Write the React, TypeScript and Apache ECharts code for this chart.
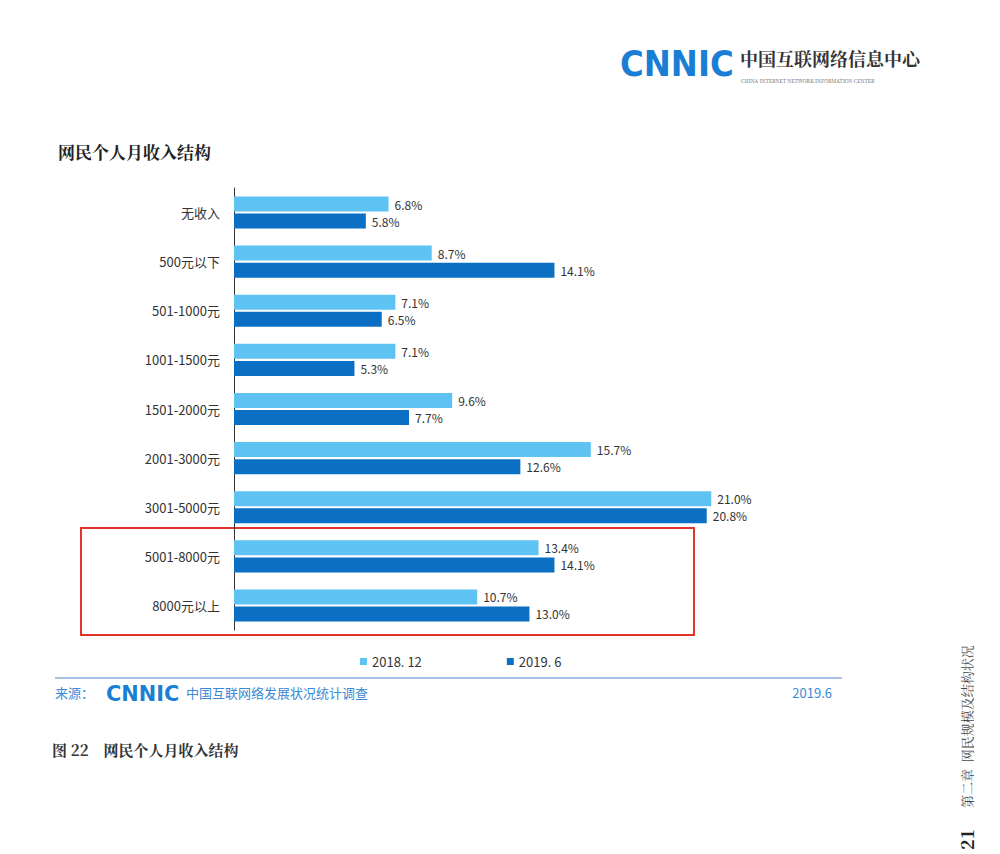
import React, { useEffect, useRef } from "react";
import * as echarts from "echarts";

const categories = [
  "无收入",
  "500元以下",
  "501-1000元",
  "1001-1500元",
  "1501-2000元",
  "2001-3000元",
  "3001-5000元",
  "5001-8000元",
  "8000元以上",
];
const series2018 = [6.8, 8.7, 7.1, 7.1, 9.6, 15.7, 21.0, 13.4, 10.7];
const series2019 = [5.8, 14.1, 6.5, 5.3, 7.7, 12.6, 20.8, 14.1, 13.0];
const seriesNames = ["2018. 12", "2019. 6"];

const LIGHT = "#5ec3f3";
const DARK = "#0b6fc4";
const SANS = "'Noto Sans CJK SC', 'Noto Sans', sans-serif";
const SERIF = "'Noto Serif CJK SC', 'DejaVu Serif', 'Liberation Serif', serif";

export default function App() {
  const ref = useRef<HTMLDivElement>(null);
  useEffect(() => {
    if (!ref.current) return;
    const chart = echarts.init(ref.current, null, { renderer: "svg" });
    const label = {
      show: true,
      position: "right" as const,
      distance: 6,
      color: "#333",
      fontSize: 12,
      fontFamily: SANS,
      formatter: (p: any) => `${Number(p.value).toFixed(1)}%`,
    };
    const watermarks: any[] = [];
    for (let r = 0; r < 10; r++) {
      for (let c = 0; c < 7; c++) {
        watermarks.push({
          type: "text",
          x: 70 + c * 120 + (r % 2) * 50,
          y: 115 + r * 55,
          rotation: Math.PI / 7,
          silent: true,
          z: -10,
          style: {
            text: "CNNIC",
            fill: "rgba(0,0,0,0.025)",
            font: `bold 20px ${SANS}`,
          },
        });
      }
    }
    chart.setOption({
      animation: false,
      backgroundColor: "#ffffff",
      grid: { left: 234, top: 188, width: 500, height: 442, containLabel: false },
      xAxis: {
        type: "value",
        min: 0,
        max: 22,
        show: false,
      },
      yAxis: {
        type: "category",
        data: categories,
        inverse: true,
        axisLine: { show: true, lineStyle: { color: "#333", width: 1 } },
        axisTick: { show: false },
        axisLabel: { color: "#333", fontSize: 13, fontFamily: SANS, margin: 14 },
      },
      legend: {
        data: seriesNames,
        left: 355,
        top: 650,
        icon: "rect",
        itemWidth: 7,
        itemHeight: 7,
        itemGap: 85,
        textStyle: { color: "#333", fontSize: 13, fontFamily: SANS },
      },
      series: [
        {
          name: seriesNames[0],
          type: "bar",
          data: series2018,
          barWidth: 15,
          barGap: "14%",
          itemStyle: { color: LIGHT },
          label,
        },
        {
          name: seriesNames[1],
          type: "bar",
          data: series2019,
          barWidth: 15,
          itemStyle: { color: DARK },
          label,
        },
      ],
      graphic: [
        ...watermarks,
        {
          type: "text",
          x: 620,
          y: 45,
          scaleX: 0.9,
          style: { text: "CNNIC", fill: "#1a7fd4", font: `bold 36px 'DejaVu Sans', sans-serif` },
        },
        {
          type: "text",
          x: 740,
          y: 49,
          style: { text: "中国互联网络信息中心", fill: "#333", font: `bold 18px ${SERIF}` },
        },
        {
          type: "text",
          x: 741,
          y: 78,
          style: { text: "CHINA INTERNET NETWORK INFORMATION CENTER", fill: "#666", font: `5px ${SERIF}` },
        },
        {
          type: "text",
          x: 58,
          y: 143,
          style: { text: "网民个人月收入结构", fill: "#222", font: `bold 17px ${SERIF}` },
        },
        {
          type: "rect",
          shape: { x: 81, y: 528, width: 613, height: 107 },
          style: { fill: "none", stroke: "#e2342a", lineWidth: 2 },
        },
        {
          type: "line",
          shape: { x1: 55, y1: 678, x2: 842, y2: 678 },
          style: { stroke: "#a9bfe3", lineWidth: 2 },
        },
        {
          type: "text",
          x: 55,
          y: 686,
          style: { text: "来源：", fill: "#3a8ad6", font: `13px ${SANS}` },
        },
        {
          type: "text",
          x: 106,
          y: 682,
          scaleX: 0.95,
          style: { text: "CNNIC", fill: "#1a7fd4", font: `bold 22px 'DejaVu Sans', sans-serif` },
        },
        {
          type: "text",
          x: 186,
          y: 686,
          style: { text: "中国互联网络发展状况统计调查", fill: "#3a8ad6", font: `13px ${SANS}` },
        },
        {
          type: "text",
          x: 832,
          y: 686,
          style: { text: "2019.6", fill: "#3a8ad6", font: `13px ${SANS}`, align: "right" },
        },
        {
          type: "text",
          x: 52,
          y: 742,
          style: { text: "图 22    网民个人月收入结构", fill: "#333", font: `bold 15px ${SERIF}` },
        },
        {
          type: "text",
          x: 966,
          y: 850,
          rotation: Math.PI / 2,
          style: { text: "21", fill: "#222", font: `bold 18px ${SERIF}`, align: "left", verticalAlign: "middle" },
        },
        {
          type: "text",
          x: 966,
          y: 808,
          rotation: Math.PI / 2,
          style: { text: "第二章  网民规模及结构状况", fill: "#444", font: `13px ${SERIF}`, align: "left", verticalAlign: "middle" },
        },
      ],
    });
    return () => chart.dispose();
  }, []);
  return (
    <div
      ref={ref}
      style={{ position: "absolute", left: 0, top: 0, width: 1000, height: 854 }}
    />
  );
}
